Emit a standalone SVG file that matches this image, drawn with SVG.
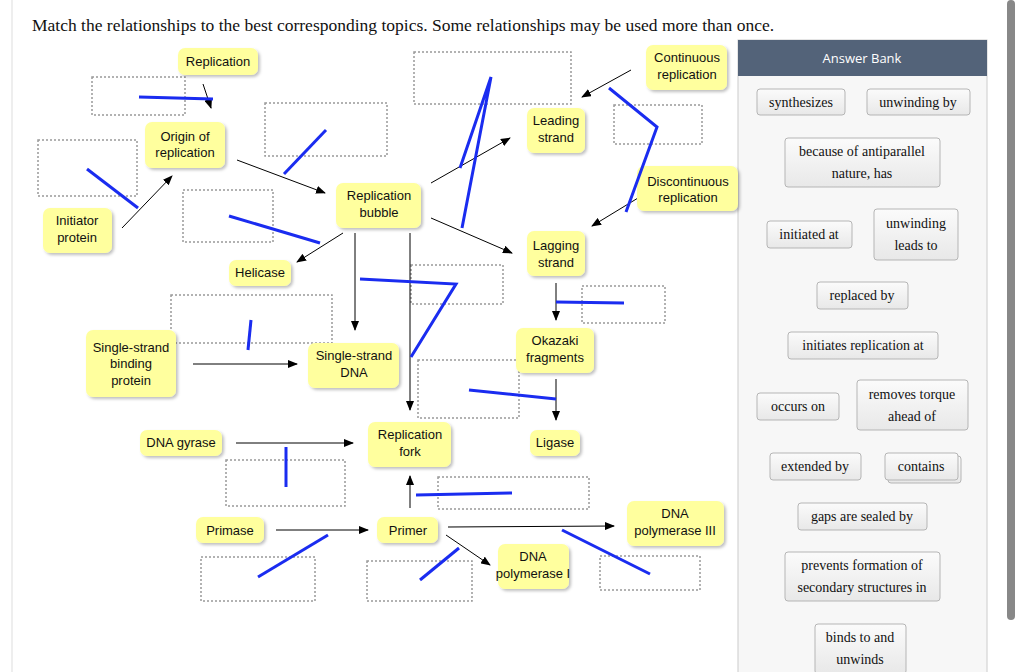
<svg xmlns="http://www.w3.org/2000/svg" width="1024" height="672" viewBox="0 0 1024 672">
<defs>
<marker id="ah" markerWidth="10" markerHeight="8" refX="9" refY="4" orient="auto" markerUnits="userSpaceOnUse"><path d="M0,0 L10,4 L0,8 z" fill="#000"/></marker>
<linearGradient id="bg" x1="0" y1="0" x2="0" y2="1"><stop offset="0" stop-color="#fbfbfb"/><stop offset="1" stop-color="#e8e8e8"/></linearGradient>
<filter id="sh" x="-20%" y="-20%" width="150%" height="150%"><feDropShadow dx="2" dy="2" stdDeviation="1.5" flood-color="#000" flood-opacity="0.25"/></filter>
</defs>
<style>
.n rect{fill:#ffff9e;filter:url(#sh)}
.n text{font-family:"Liberation Sans",Arial,sans-serif;font-size:13px;fill:#111;text-anchor:middle}
.d{fill:none;stroke:#999;stroke-width:1.5;stroke-dasharray:2 2}
.b{stroke:#1a2cf0;stroke-width:3;fill:none}
.c line{stroke:#000;stroke-width:1;marker-end:url(#ah)}
.a rect{fill:url(#bg);stroke:#b5b5b5;rx:3}
.a text{font-family:"Liberation Serif","Times New Roman",serif;font-size:14px;fill:#111;text-anchor:middle}
</style>
<rect width="1024" height="672" fill="#fff"/>
<line x1="12" y1="0" x2="12" y2="672" stroke="#ddd"/>
<text x="32" y="31" font-family="Liberation Serif,Times New Roman,serif" font-size="17.5" fill="#111">Match the relationships to the best corresponding topics. Some relationships may be used more than once.</text>
<rect x="1007" y="0" width="8" height="620" rx="4" fill="#888"/>
<rect x="738" y="40" width="249" height="640" fill="#f7f7f7" stroke="#ccc"/>
<rect x="738" y="40" width="249" height="36" fill="#536379"/>
<text x="862" y="63" font-family="Open Sans,sans-serif" font-size="13" fill="#fff" text-anchor="middle">Answer Bank</text>
<g id="dropboxes">
<rect class="d" x="92" y="77" width="93" height="38"/>
<rect class="d" x="38" y="140" width="99" height="56"/>
<rect class="d" x="265" y="103" width="122" height="53"/>
<rect class="d" x="414" y="52" width="157" height="52"/>
<rect class="d" x="614" y="105" width="88" height="39"/>
<rect class="d" x="183" y="190" width="90" height="52"/>
<rect class="d" x="411" y="265" width="92" height="39"/>
<rect class="d" x="171" y="295" width="161" height="48"/>
<rect class="d" x="582" y="286" width="83" height="37"/>
<rect class="d" x="418" y="360" width="101" height="58"/>
<rect class="d" x="226" y="460" width="119" height="46"/>
<rect class="d" x="438" y="477" width="151" height="32"/>
<rect class="d" x="201" y="557" width="114" height="44"/>
<rect class="d" x="367" y="561" width="105" height="40"/>
<rect class="d" x="600" y="556" width="100" height="34"/>
</g>
<g class="c" id="connectors">
<line x1="203" y1="84" x2="211" y2="108"/>
<line x1="122" y1="228" x2="172" y2="176"/>
<line x1="237" y1="160" x2="325" y2="193"/>
<line x1="343" y1="233" x2="297" y2="262"/>
<line x1="431" y1="183" x2="510" y2="138"/>
<line x1="631" y1="70" x2="582" y2="97"/>
<line x1="638" y1="198" x2="592" y2="226"/>
<line x1="431" y1="218" x2="512" y2="253"/>
<line x1="355" y1="233" x2="355" y2="330"/>
<line x1="410" y1="233" x2="410" y2="410"/>
<line x1="556" y1="283" x2="556" y2="320"/>
<line x1="556" y1="379" x2="556" y2="420"/>
<line x1="193" y1="364" x2="297" y2="364"/>
<line x1="236" y1="443" x2="353" y2="443"/>
<line x1="410" y1="508" x2="410" y2="476"/>
<line x1="276" y1="530" x2="368" y2="530"/>
<line x1="448" y1="527" x2="614" y2="526"/>
<line x1="446" y1="535" x2="490" y2="565"/>
</g>
<g id="nodes">
<g class="n" id="n-replication"><rect x="178" y="48" width="80" height="27" rx="7"/><text x="218" y="66">Replication</text></g>
<g class="n" id="n-origin"><rect x="145" y="122" width="80" height="46" rx="7"/><text x="185" y="141">Origin of</text><text x="185" y="157">replication</text></g>
<g class="n" id="n-initiator"><rect x="43" y="208" width="69" height="45" rx="7"/><text x="77" y="225">Initiator</text><text x="77" y="242">protein</text></g>
<g class="n" id="n-bubble"><rect x="336" y="183" width="85" height="45" rx="7"/><text x="379" y="200">Replication</text><text x="379" y="217">bubble</text></g>
<g class="n" id="n-helicase"><rect x="229" y="260" width="62" height="26" rx="7"/><text x="260" y="277">Helicase</text></g>
<g class="n" id="n-leading"><rect x="527" y="108" width="58" height="45" rx="7"/><text x="556" y="125">Leading</text><text x="556" y="142">strand</text></g>
<g class="n" id="n-continuous"><rect x="646" y="45" width="81" height="45" rx="7"/><text x="687" y="62">Continuous</text><text x="687" y="79">replication</text></g>
<g class="n" id="n-discontinuous"><rect x="637" y="166" width="101" height="45" rx="7"/><text x="688" y="186">Discontinuous</text><text x="688" y="202">replication</text></g>
<g class="n" id="n-lagging"><rect x="527" y="231" width="58" height="45" rx="7"/><text x="556" y="250">Lagging</text><text x="556" y="267">strand</text></g>
<g class="n" id="n-okazaki"><rect x="516" y="328" width="78" height="45" rx="7"/><text x="555" y="345">Okazaki</text><text x="555" y="362">fragments</text></g>
<g class="n" id="n-ssb"><rect x="86" y="330" width="90" height="67" rx="7"/><text x="131" y="352">Single-strand</text><text x="131" y="368">binding</text><text x="131" y="385">protein</text></g>
<g class="n" id="n-ssdna"><rect x="308" y="343" width="91" height="45" rx="7"/><text x="354" y="360">Single-strand</text><text x="354" y="377">DNA</text></g>
<g class="n" id="n-gyrase"><rect x="140" y="430" width="82" height="26" rx="7"/><text x="181" y="447">DNA gyrase</text></g>
<g class="n" id="n-fork"><rect x="368" y="422" width="83" height="45" rx="7"/><text x="410" y="439">Replication</text><text x="410" y="456">fork</text></g>
<g class="n" id="n-ligase"><rect x="530" y="430" width="50" height="26" rx="7"/><text x="555" y="447">Ligase</text></g>
<g class="n" id="n-primase"><rect x="196" y="517" width="68" height="26" rx="7"/><text x="230" y="535">Primase</text></g>
<g class="n" id="n-primer"><rect x="377" y="517" width="61" height="26" rx="7"/><text x="408" y="535">Primer</text></g>
<g class="n" id="n-pol3"><rect x="627" y="501" width="97" height="45" rx="7"/><text x="675" y="518">DNA</text><text x="675" y="535">polymerase III</text></g>
<g class="n" id="n-pol1"><rect x="498" y="544" width="71" height="45" rx="7"/><text x="533" y="561">DNA</text><text x="533" y="578">polymerase I</text></g>
</g>
<g id="marks">
<line class="b" x1="139" y1="97" x2="213" y2="99"/>
<line class="b" x1="87" y1="169" x2="138" y2="208"/>
<line class="b" x1="284" y1="174" x2="326" y2="130"/>
<line class="b" x1="229" y1="216" x2="320" y2="243"/>
<polyline class="b" points="460,168 491,77 462,228"/>
<polyline class="b" points="609,88 657,127 626,212"/>
<polyline class="b" points="360,279 456,284 411,357"/>
<line class="b" x1="556" y1="302" x2="624" y2="303"/>
<line class="b" x1="251" y1="320" x2="248" y2="350"/>
<line class="b" x1="469" y1="390" x2="556" y2="399"/>
<line class="b" x1="286" y1="447" x2="286" y2="487"/>
<line class="b" x1="416" y1="495" x2="512" y2="493"/>
<line class="b" x1="258" y1="577" x2="328" y2="535"/>
<line class="b" x1="420" y1="580" x2="459" y2="548"/>
<line class="b" x1="562" y1="530" x2="650" y2="574"/>
</g>
<g id="answers">
<g class="a"><rect x="757" y="89" width="88" height="26"/><text x="801" y="107">synthesizes</text></g>
<g class="a"><rect x="867" y="89" width="103" height="26"/><text x="918" y="107">unwinding by</text></g>
<g class="a"><rect x="785" y="138" width="155" height="49"/><text x="862" y="156">because of antiparallel</text><text x="862" y="178">nature, has</text></g>
<g class="a"><rect x="767" y="221" width="85" height="27"/><text x="809" y="239">initiated at</text></g>
<g class="a"><rect x="874" y="209" width="84" height="51"/><text x="916" y="228">unwinding</text><text x="916" y="250">leads to</text></g>
<g class="a"><rect x="817" y="282" width="91" height="27"/><text x="862" y="300">replaced by</text></g>
<g class="a"><rect x="788" y="332" width="150" height="27"/><text x="863" y="350">initiates replication at</text></g>
<g class="a"><rect x="757" y="393" width="82" height="27"/><text x="798" y="411">occurs on</text></g>
<g class="a"><rect x="857" y="380" width="111" height="50"/><text x="912" y="399">removes torque</text><text x="912" y="421">ahead of</text></g>
<g class="a"><rect x="770" y="453" width="91" height="27"/><text x="815" y="471">extended by</text></g>
<g class="a"><rect x="888" y="456" width="73" height="27"/><rect x="885" y="453" width="73" height="27"/><text x="921" y="471">contains</text></g>
<g class="a"><rect x="798" y="503" width="129" height="27"/><text x="862" y="521">gaps are sealed by</text></g>
<g class="a"><rect x="785" y="552" width="155" height="49"/><text x="862" y="570">prevents formation of</text><text x="862" y="592">secondary structures in</text></g>
<g class="a"><rect x="815" y="624" width="91" height="50"/><text x="860" y="642">binds to and</text><text x="860" y="664">unwinds</text></g>
</g>
</svg>
